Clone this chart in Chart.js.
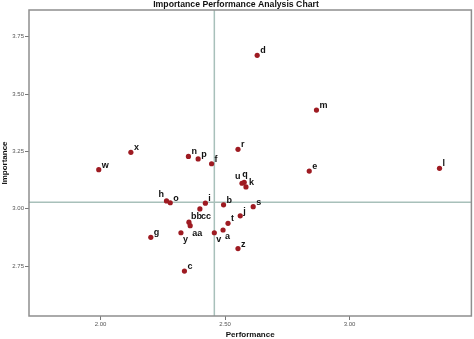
<!DOCTYPE html>
<html>
<head>
<meta charset="utf-8">
<title>Importance Performance Analysis Chart</title>
<script src="https://cdn.jsdelivr.net/npm/chart.js@4.4.0/dist/chart.umd.min.js"></script>
<style>
  html, body { margin: 0; padding: 0; background: #fff; }
</style>
</head>
<body>
<canvas id="ipaChart" width="474" height="339"></canvas>
<script>
// Items
const itemLabels = ["a", "b", "c", "d", "e", "f", "g", "h", "i", "j", "k", "l", "m", "n", "o",
  "p", "q", "r", "s", "t", "u", "v", "w", "x", "y", "z", "aa", "bb", "cc"];
const performance = [2.492, 2.494, 2.337, 2.629, 2.838, 2.446, 2.202, 2.265, 2.421, 2.561,
  2.584, 3.361, 2.867, 2.353, 2.280, 2.392, 2.577, 2.552, 2.613, 2.512, 2.568, 2.457, 1.993,
  2.122, 2.323, 2.552, 2.360, 2.399, 2.355];
const importance = [2.907, 3.017, 2.728, 3.669, 3.164, 3.196, 2.875, 3.034, 3.024, 2.969,
  3.095, 3.176, 3.430, 3.228, 3.026, 3.217, 3.115, 3.259, 3.009, 2.936, 3.111, 2.895, 3.170,
  3.246, 2.895, 2.826, 2.926, 2.999, 2.941];

const xTicks = [2.0, 2.5, 3.0];
const yTicks = [2.75, 3.0, 3.25, 3.5, 3.75];

// quadrant reference lines
const meanPerformance = 2.457;
const meanImportance = 3.028;

// labels that were moved to avoid overlaps
const labelNudge = {
  h: [-8, -4], u: [-7, -4], q: [-2, -5],
  bb: [-9, 10], cc: [12, -3], aa: [2, 10],
  y: [2, 9], v: [2, 9], a: [2, 9],
};

const fontFamily = '"Liberation Sans", Arial, sans-serif';

const points = performance.map((p, i) => ({ x: p, y: importance[i] }));

const ipaDecor = {
  id: "ipaDecor",
  beforeDatasetsDraw(chart) {
    const { ctx, chartArea: a, scales } = chart;
    const mx = scales.x.getPixelForValue(meanPerformance);
    const my = scales.y.getPixelForValue(meanImportance);
    ctx.save();
    ctx.strokeStyle = "#a8c0ba";
    ctx.lineWidth = 1.5;
    ctx.beginPath();
    ctx.moveTo(mx, a.top);
    ctx.lineTo(mx, a.bottom);
    ctx.moveTo(a.left, my);
    ctx.lineTo(a.right, my);
    ctx.stroke();

    ctx.strokeStyle = "#8e8e8e";
    ctx.strokeRect(a.left, a.top, a.right - a.left, a.bottom - a.top);
    ctx.restore();
  },
  afterDatasetsDraw(chart) {
    const { ctx } = chart;
    const meta = chart.getDatasetMeta(0);
    ctx.save();
    ctx.fillStyle = "#111";
    ctx.font = "bold 9px " + fontFamily;
    ctx.textAlign = "left";
    ctx.textBaseline = "alphabetic";
    meta.data.forEach((pt, i) => {
      const name = itemLabels[i];
      const off = labelNudge[name] || [3, -2];
      ctx.fillText(name, pt.x + off[0], pt.y + off[1]);
    });
    ctx.restore();
  },
  afterDraw(chart) {
    const { ctx, chartArea: a } = chart;
    ctx.save();
    ctx.fillStyle = "#111";
    ctx.textAlign = "center";
    ctx.font = "bold 8.7px " + fontFamily;
    ctx.textBaseline = "alphabetic";
    ctx.fillText("Importance Performance Analysis Chart", 236, 7);

    ctx.font = "bold 8px " + fontFamily;
    ctx.textBaseline = "middle";
    ctx.fillText("Performance", (a.left + a.right) / 2, 334.5);

    ctx.translate(5, (a.top + a.bottom) / 2);
    ctx.rotate(-Math.PI / 2);
    ctx.fillText("Importance", 0, 0);
    ctx.restore();
  },
};

const ctx = document.getElementById("ipaChart").getContext("2d");

new Chart(ctx, {
  type: "scatter",
  data: {
    datasets: [
      {
        label: "Items",
        data: points,
        backgroundColor: "#9e1b22",
        borderWidth: 0,
        pointRadius: 2.6,
        pointHoverRadius: 2.6,
      },
    ],
  },
  options: {
    responsive: false,
    animation: false,
    devicePixelRatio: 1,
    layout: {
      padding: { top: 10, right: 1, left: 0, bottom: 0 },
    },
    plugins: {
      legend: { display: false },
      title: { display: false },
      tooltip: { enabled: false },
    },
    scales: {
      x: {
        type: "linear",
        min: 1.713,
        max: 3.489,
        afterBuildTicks: (scale) => {
          scale.ticks = xTicks.map((v) => ({ value: v }));
        },
        afterFit: (scale) => {
          scale.height = 23;
        },
        border: { display: false },
        grid: {
          drawOnChartArea: false,
          drawTicks: true,
          tickLength: 4,
          color: "#777",
        },
        ticks: {
          padding: 1,
          color: "#555",
          font: { size: 6, family: fontFamily },
          maxRotation: 0,
          callback: (v) => Number(v).toFixed(2),
        },
      },
      y: {
        type: "linear",
        min: 2.532,
        max: 3.8666,
        afterBuildTicks: (scale) => {
          scale.ticks = yTicks.map((v) => ({ value: v }));
        },
        afterFit: (scale) => {
          scale.width = 29;
        },
        border: { display: false },
        grid: {
          drawOnChartArea: false,
          drawTicks: true,
          tickLength: 4,
          color: "#777",
        },
        ticks: {
          padding: 1,
          color: "#555",
          font: { size: 6, family: fontFamily },
          callback: (v) => Number(v).toFixed(2),
        },
      },
    },
  },
  plugins: [ipaDecor],
});
</script>
</body>
</html>
